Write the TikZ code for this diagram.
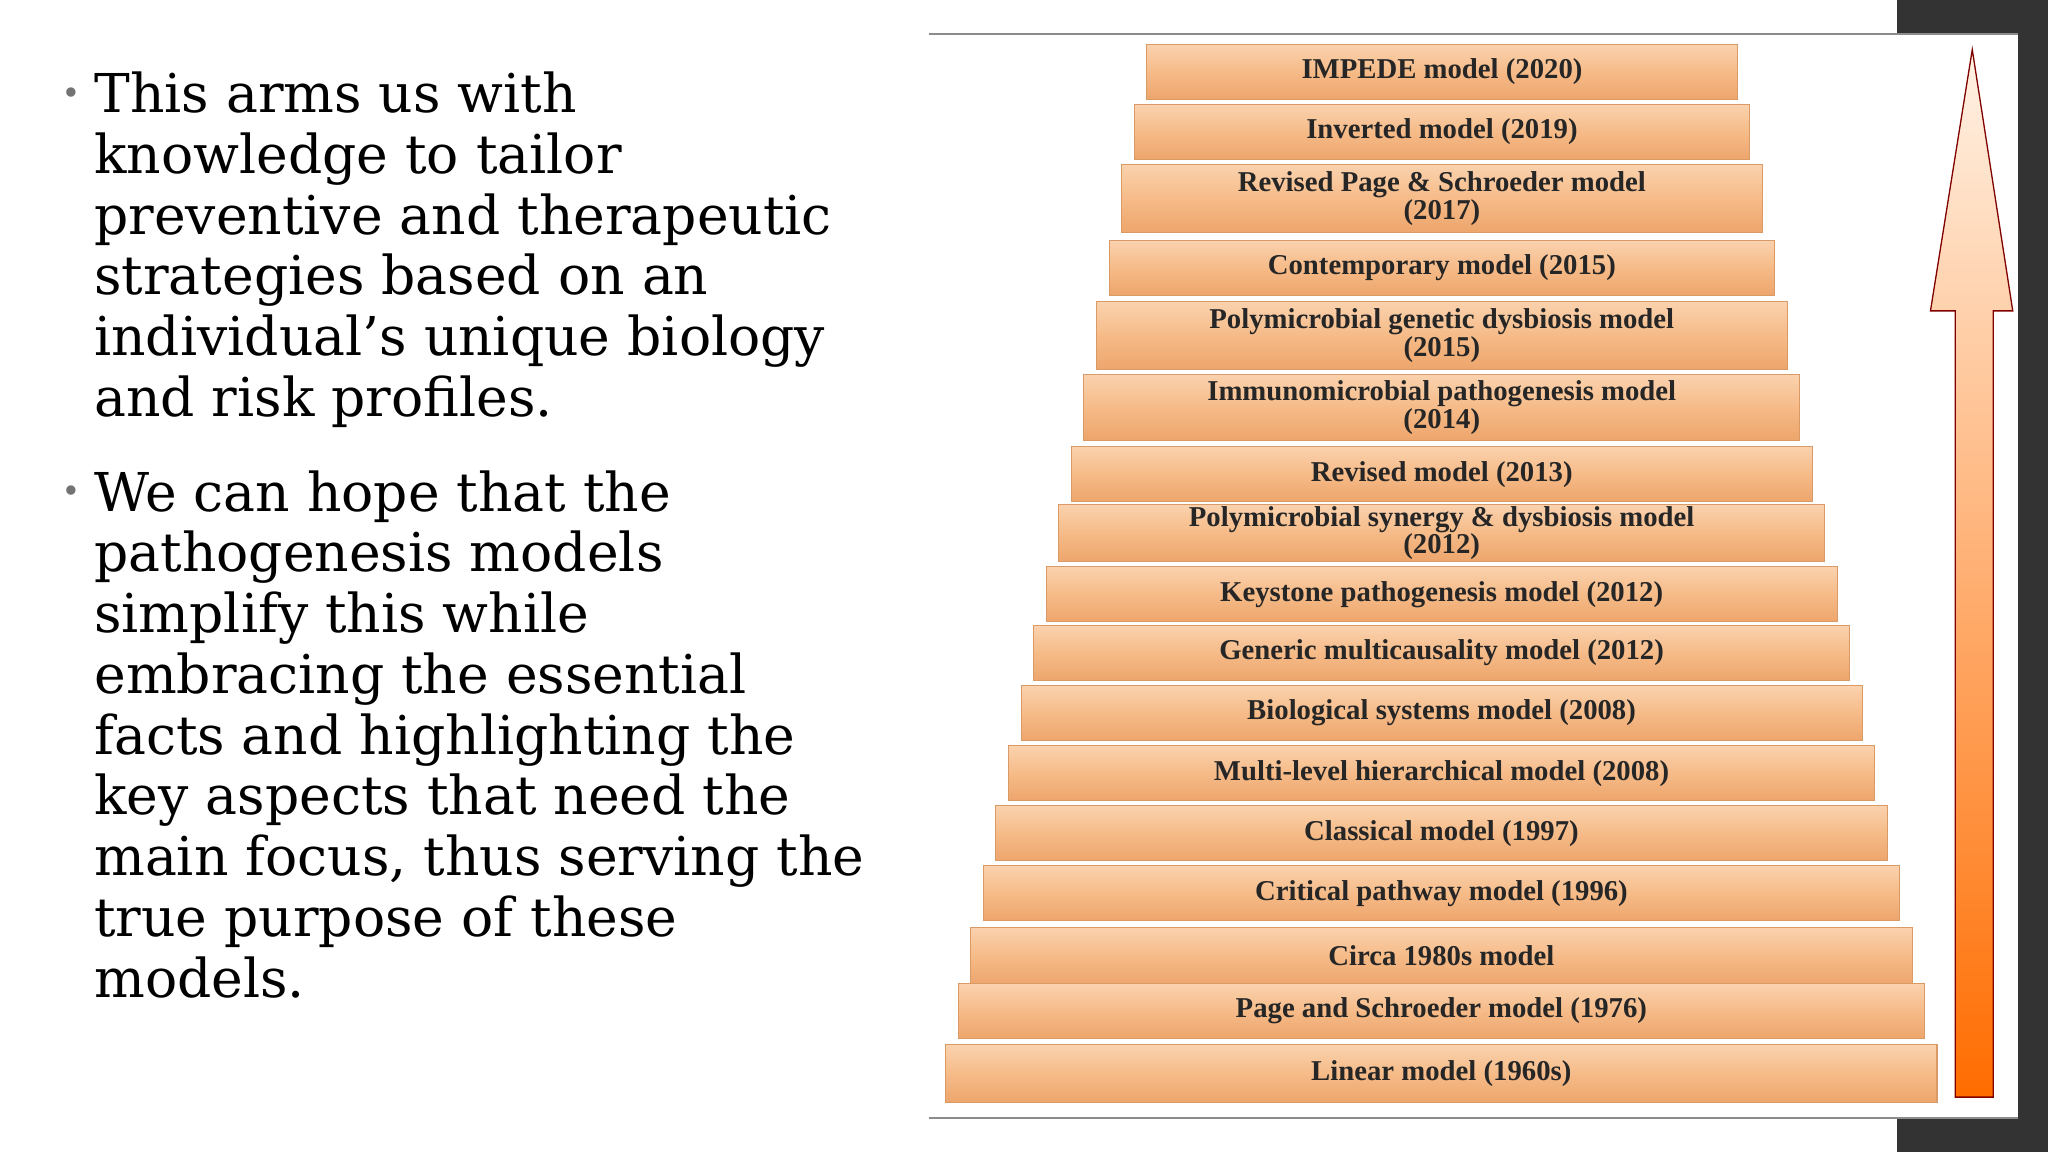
\documentclass[tikz,border=0pt]{standalone}
\usepackage{fontspec}
\setmainfont{Liberation Serif}
\newfontfamily\slab{DejaVu Serif}
\definecolor{peachtop}{HTML}{FAD2AE}
\definecolor{peachmid}{HTML}{F6BB88}
\definecolor{peachbot}{HTML}{EDA56C}
\definecolor{peachedge}{HTML}{D99A66}
\begin{document}
\begin{tikzpicture}[x=1pt,y=-1pt,
  stepbox/.style={draw=peachedge, line width=0.8pt, top color=peachtop, bottom color=peachbot, middle color=peachmid, inner sep=0pt, align=center, font=\bfseries\fontsize{22}{21}\selectfont, text=black!85},
  bullettext/.style={anchor=north west, align=left, inner sep=0pt, font=\slab\fontsize{41}{46.5}\selectfont}]
\useasboundingbox (0,0) rectangle (1568,882);
\fill[white] (0,0) rectangle (1568,882);
\fill[black!80] (1452,0) rectangle (1568,882);
\fill[white] (711,26) rectangle (1545,856);
\draw[black!45, line width=1.2pt] (711,26) -- (1545,26);
\draw[black!45, line width=1.2pt] (711,856) -- (1545,856);
\foreach \i/\yc/\h/\t in {
 0/55/42/{IMPEDE model (2020)},
 1/101/42/{Inverted model (2019)},
 2/152/52/{Revised Page \& Schroeder model\\(2017)},
 3/205/42/{Contemporary model (2015)},
 4/257/52/{Polymicrobial genetic dysbiosis model\\(2015)},
 5/312/50/{Immunomicrobial pathogenesis model\\(2014)},
 6/363/42/{Revised model (2013)},
 7/408/44/{Polymicrobial synergy \& dysbiosis model\\(2012)},
 8/455/42/{Keystone pathogenesis model (2012)},
 9/500/42/{Generic multicausality model (2012)},
 10/546/42/{Biological systems model (2008)},
 11/592/42/{Multi-level hierarchical model (2008)},
 12/638/42/{Classical model (1997)},
 13/684/42/{Critical pathway model (1996)},
 14/732/44/{Circa 1980s model},
 15/774/42/{Page and Schroeder model (1976)},
 16/822/44/{Linear model (1960s)}}{
  \pgfmathsetmacro\xl{878-\i*154/16}
  \pgfmathsetmacro\xr{1330+\i*153/16}
  \pgfmathsetmacro\w{\xr-\xl}
  \node[stepbox, minimum width=\w pt, minimum height=\h pt] (s\i) at ({(\xl+\xr)/2},\yc) {\t};
}
\shade[top color=orange!10!white, bottom color=orange!85!red, draw=red!50!black, line width=1pt]
 (1510,38) -- (1541,238) -- (1526,238) -- (1526,840) -- (1497,840) -- (1497,238) -- (1478,238) -- cycle;
\node[bullettext] (p1) at (72,55) {This arms us with\\knowledge to tailor\\preventive and therapeutic\\strategies based on an\\individual’s unique biology\\and risk profiles.};
\node[bullettext] (p2) at (72,360) {We can hope that the\\pathogenesis models\\simplify this while\\embracing the essential\\facts and highlighting the\\key aspects that need the\\main focus, thus serving the\\true purpose of these\\models.};
\node[font=\fontsize{30}{30}\selectfont, text=black!55] (b1) at (55,74) {•};
\node[font=\fontsize{30}{30}\selectfont, text=black!55] (b2) at (55,379) {•};
\end{tikzpicture}
\end{document}
